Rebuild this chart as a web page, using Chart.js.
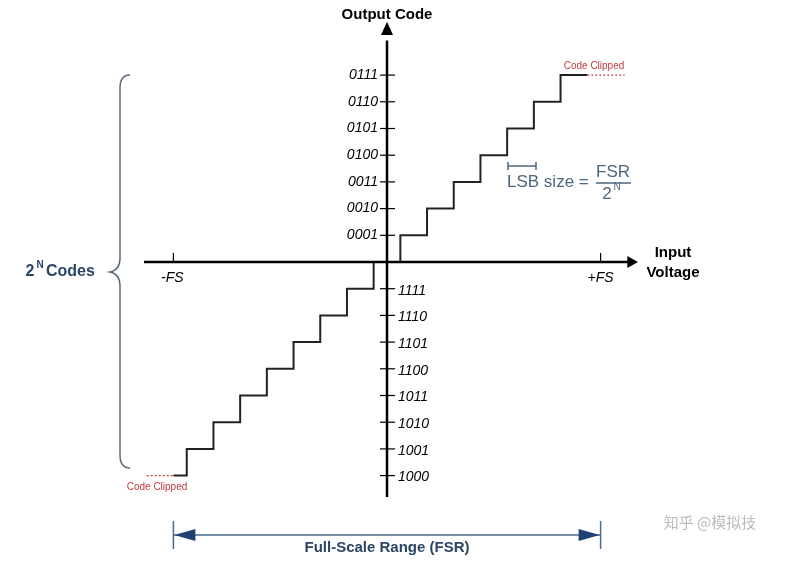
<!DOCTYPE html>
<html><head><meta charset="utf-8">
<script src="https://cdn.jsdelivr.net/npm/chart.js@4"></script>
<style>html,body{margin:0;padding:0;background:#fff}#w{width:797px;height:561px}</style>
</head><body><div id="w"><canvas id="c"></canvas></div>
<script>
const inputX = [-8,-7.5,-6.5,-5.5,-4.5,-3.5,-2.5,-1.5,-0.5,0.5,1.5,2.5,3.5,4.5,5.5,6.5,7.5];
const outCode = [-8,-7,-6,-5,-4,-3,-2,-1,0,1,2,3,4,5,6,7,7];
const clipLowX = [-9,-8], clipLowY = [-8,-8];
const clipHighX = [7.5,8.9], clipHighY = [7,7];
const codeValues = [7,6,5,4,3,2,1,-1,-2,-3,-4,-5,-6,-7,-8];
const codeLabels = ['0111','0110','0101','0100','0011','0010','0001','1111','1110','1101','1100','1011','1010','1001','1000'];
const pts=(xs,ys)=>xs.map((x,i)=>({x,y:ys[i]}));
const S=26.7;
const overlay={id:'ov',afterDraw(ch){
 const c=ch.ctx,X=ch.scales.x,Y=ch.scales.y;
 const px=v=>X.getPixelForValue(v),py=v=>Y.getPixelForValue(v);
 const x0=px(0),y0=py(0);
 c.save();c.strokeStyle='#000';c.fillStyle='#000';c.lineWidth=2.5;
 c.beginPath();c.moveTo(px(-9.1),y0);c.lineTo(px(9.2),y0);c.moveTo(x0,py(-8.8));c.lineTo(x0,py(8.3));c.stroke();
 c.beginPath();c.moveTo(px(9.4),y0);c.lineTo(px(9.0),y0-6);c.lineTo(px(9.0),y0+6);c.fill();
 c.beginPath();c.moveTo(x0,py(9.0));c.lineTo(x0-6,py(8.5));c.lineTo(x0+6,py(8.5));c.fill();
 c.lineWidth=1.2;
 codeValues.forEach((v,i)=>{c.beginPath();c.moveTo(x0-7,py(v));c.lineTo(x0+8,py(v));c.stroke();
  c.font='italic 14px "Liberation Sans"';c.textBaseline='middle';
  if(v>0){c.textAlign='right';c.fillText(codeLabels[i],x0-9,py(v));}
  else{c.textAlign='left';c.fillText(codeLabels[i],x0+11,py(v)+2);}
 });
 [-8,8].forEach(v=>{c.beginPath();c.moveTo(px(v),y0);c.lineTo(px(v),y0-9);c.stroke();});
 c.font='italic 14px "Liberation Sans"';c.textAlign='center';c.textBaseline='top';
 c.fillText('-FS',px(-8)-1,y0+9);c.fillText('+FS',px(8),y0+9);
 c.font='bold 15px "Liberation Sans"';c.textBaseline='middle';
 c.fillText('Output Code',x0,15);
 c.fillText('Input',673,253);c.fillText('Voltage',673,273);
 c.fillStyle='#c0393f';c.font='10px "Liberation Sans"';
 c.fillText('Code Clipped',594,66);c.fillText('Code Clipped',157,487);
 const blue='#4d6680';c.fillStyle=blue;c.strokeStyle=blue;c.lineWidth=1.5;
 c.font='17px "Liberation Sans"';c.textAlign='left';c.fillText('LSB size =',507,182);
 c.textAlign='center';c.fillText('FSR',613,172);c.fillText('2',607,194);
 c.font='10px "Liberation Sans"';c.fillText('N',617,187);
 c.beginPath();c.moveTo(596,183);c.lineTo(631,183);c.stroke();
 c.beginPath();c.moveTo(508,166);c.lineTo(536,166);c.moveTo(508,162);c.lineTo(508,170);c.moveTo(536,162);c.lineTo(536,170);c.stroke();
 const dk='#2b4565';c.strokeStyle='#5a6b7d';c.lineWidth=1.5;
 c.beginPath();c.moveTo(130,75);c.quadraticCurveTo(120,75,120,88);c.lineTo(120,258);c.quadraticCurveTo(120,270,110,272);
 c.quadraticCurveTo(120,274,120,286);c.lineTo(120,455);c.quadraticCurveTo(120,468,130,468);c.stroke();
 c.fillStyle=dk;c.font='bold 16px "Liberation Sans"';c.textAlign='center';c.fillText('2',30,272);
 c.font='bold 10px "Liberation Sans"';c.fillText('N',40,265);
 c.font='bold 16px "Liberation Sans"';c.textAlign='left';c.fillText('Codes',46,272);
 c.strokeStyle='#4a6a8c';c.lineWidth=1.5;const ay=535,l=px(-8),r=px(8);
 c.beginPath();c.moveTo(l,521);c.lineTo(l,549);c.moveTo(r,521);c.lineTo(r,549);c.moveTo(l,ay);c.lineTo(r,ay);c.stroke();
 c.fillStyle='#1f3f75';
 c.beginPath();c.moveTo(l+1,ay);c.lineTo(l+22,ay-6);c.lineTo(l+22,ay+6);c.fill();
 c.beginPath();c.moveTo(r-1,ay);c.lineTo(r-22,ay-6);c.lineTo(r-22,ay+6);c.fill();
 c.fillStyle=dk;c.font='bold 15px "Liberation Sans"';c.textAlign='center';c.fillText('Full-Scale Range (FSR)',x0,548);
 c.fillStyle='#bbb';c.font='15px "Noto Sans CJK SC"';c.fillText('知乎 @模拟技',710,522);
 c.restore();}};
new Chart(document.getElementById('c'),{type:'scatter',
 data:{datasets:[
  {data:pts(inputX,outCode),showLine:true,stepped:'before',borderColor:'#222',borderWidth:2,pointRadius:0,fill:false},
  {data:pts(clipLowX,clipLowY),showLine:true,borderColor:'#c0393f',borderWidth:1.2,borderDash:[2,2],pointRadius:0},
  {data:pts(clipHighX,clipHighY),showLine:true,borderColor:'#c0393f',borderWidth:1.2,borderDash:[2,2],pointRadius:0}]},
 plugins:[overlay],
 options:{responsive:true,maintainAspectRatio:false,animation:false,layout:{padding:0},
  plugins:{legend:{display:false},tooltip:{enabled:false}},
  scales:{x:{type:'linear',display:false,min:-387/S,max:(797-387)/S},
          y:{type:'linear',display:false,min:-(561-262)/S,max:262/S}}}});
</script></body></html>
